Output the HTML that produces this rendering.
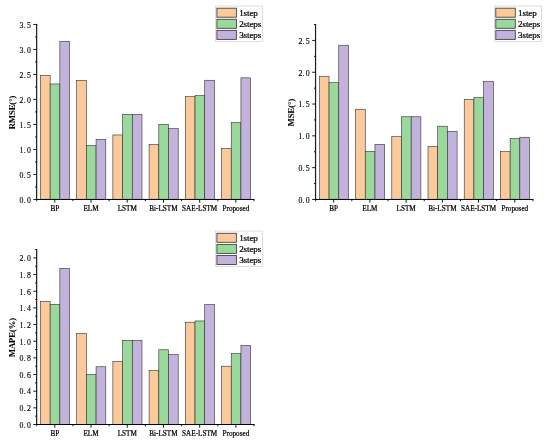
<!DOCTYPE html>
<html lang="en"><head><meta charset="utf-8"><title>Prediction error comparison</title>
<style>html,body{margin:0;padding:0;background:#fff}body{width:550px;height:442px;overflow:hidden}svg{display:block}text{font-family:"Liberation Serif","DejaVu Serif",serif;fill:#000;stroke:#000;stroke-width:0.22px}.tk{font-size:7.8px;stroke-width:0.14px}.lb{font-size:7.2px;text-anchor:middle}.tt{font-size:8.5px;text-anchor:middle;font-weight:bold;stroke-width:0.05px}.lg{font-size:9.1px;letter-spacing:-0.12px}</style></head><body>
<svg width="550" height="442" viewBox="0 0 550 442">
<rect width="550" height="442" fill="#fff"/>
<g>
<rect x="40.46" y="75.45" width="9.70" height="124.00" fill="#fbc99a" stroke="#303030" stroke-width="0.6"/>
<rect x="50.16" y="83.95" width="9.70" height="115.50" fill="#9bd89b" stroke="#303030" stroke-width="0.6"/>
<rect x="59.86" y="41.45" width="9.70" height="158.00" fill="#c3b3dc" stroke="#303030" stroke-width="0.6"/>
<rect x="76.68" y="80.45" width="9.70" height="119.00" fill="#fbc99a" stroke="#303030" stroke-width="0.6"/>
<rect x="86.38" y="145.65" width="9.70" height="53.80" fill="#9bd89b" stroke="#303030" stroke-width="0.6"/>
<rect x="96.08" y="139.45" width="9.70" height="60.00" fill="#c3b3dc" stroke="#303030" stroke-width="0.6"/>
<rect x="112.89" y="134.95" width="9.70" height="64.50" fill="#fbc99a" stroke="#303030" stroke-width="0.6"/>
<rect x="122.59" y="114.45" width="9.70" height="85.00" fill="#9bd89b" stroke="#303030" stroke-width="0.6"/>
<rect x="132.29" y="114.45" width="9.70" height="85.00" fill="#c3b3dc" stroke="#303030" stroke-width="0.6"/>
<rect x="149.11" y="144.45" width="9.70" height="55.00" fill="#fbc99a" stroke="#303030" stroke-width="0.6"/>
<rect x="158.81" y="124.45" width="9.70" height="75.00" fill="#9bd89b" stroke="#303030" stroke-width="0.6"/>
<rect x="168.51" y="128.65" width="9.70" height="70.80" fill="#c3b3dc" stroke="#303030" stroke-width="0.6"/>
<rect x="185.32" y="96.65" width="9.70" height="102.80" fill="#fbc99a" stroke="#303030" stroke-width="0.6"/>
<rect x="195.02" y="95.65" width="9.70" height="103.80" fill="#9bd89b" stroke="#303030" stroke-width="0.6"/>
<rect x="204.72" y="80.25" width="9.70" height="119.20" fill="#c3b3dc" stroke="#303030" stroke-width="0.6"/>
<rect x="221.54" y="148.45" width="9.70" height="51.00" fill="#fbc99a" stroke="#303030" stroke-width="0.6"/>
<rect x="231.24" y="122.65" width="9.70" height="76.80" fill="#9bd89b" stroke="#303030" stroke-width="0.6"/>
<rect x="240.94" y="77.85" width="9.70" height="121.60" fill="#c3b3dc" stroke="#303030" stroke-width="0.6"/>
<path d="M36.65 23.95V199.95" fill="none" stroke="#1c1c1c" stroke-width="1.2"/>
<path d="M36.70 199.45H254.50" fill="none" stroke="#000" stroke-width="1"/>
<text class="tk" x="19.50 23.70 26.90" y="202.75">0.0</text>
<text class="tk" x="19.50 23.70 26.90" y="177.75">0.5</text>
<text class="tk" x="19.50 23.70 26.90" y="152.75">1.0</text>
<text class="tk" x="19.50 23.70 26.90" y="127.75">1.5</text>
<text class="tk" x="19.50 23.70 26.90" y="102.75">2.0</text>
<text class="tk" x="19.50 23.70 26.90" y="77.75">2.5</text>
<text class="tk" x="19.50 23.70 26.90" y="52.75">3.0</text>
<text class="tk" x="19.50 23.70 26.90" y="27.75">3.5</text>
<text class="lb" x="54.81" y="211.15">BP</text>
<text class="lb" x="91.03" y="211.15">ELM</text>
<text class="lb" x="127.24" y="211.15">LSTM</text>
<text class="lb" x="163.46" y="211.15">Bi-LSTM</text>
<text class="lb" x="199.68" y="211.15">SAE-LSTM</text>
<text class="lb" x="235.89" y="211.15">Proposed</text>
<path d="M36.70 199.45v1.8M36.70 199.45h-3.4M36.70 186.95h-1.6M36.70 174.45h-3.4M36.70 161.95h-1.6M36.70 149.45h-3.4M36.70 136.95h-1.6M36.70 124.45h-3.4M36.70 111.95h-1.6M36.70 99.45h-3.4M36.70 86.95h-1.6M36.70 74.45h-3.4M36.70 61.95h-1.6M36.70 49.45h-3.4M36.70 36.95h-1.6M36.70 24.45h-3.4M54.81 199.45v3.2M72.92 199.45v1.8M91.03 199.45v3.2M109.13 199.45v1.8M127.24 199.45v3.2M145.35 199.45v1.8M163.46 199.45v3.2M181.57 199.45v1.8M199.68 199.45v3.2M217.78 199.45v1.8M235.89 199.45v3.2M254.00 199.45v1.8" fill="none" stroke="#000" stroke-width="0.9"/>
<text class="tt" transform="translate(15.40 112.45) rotate(-90)">RMSE(°)</text>
<rect x="215.60" y="6.00" width="47.0" height="35.3" fill="#fff" stroke="#c8c8c8" stroke-width="0.6"/>
<rect x="216.90" y="8.20" width="19.5" height="9.0" fill="#fbc99a" stroke="#444" stroke-width="0.9"/>
<text class="lg" x="239.20" y="15.60">1step</text>
<rect x="216.90" y="19.30" width="19.5" height="9.0" fill="#9bd89b" stroke="#444" stroke-width="0.9"/>
<text class="lg" x="239.20" y="26.70">2steps</text>
<rect x="216.90" y="30.40" width="19.5" height="9.0" fill="#c3b3dc" stroke="#444" stroke-width="0.9"/>
<text class="lg" x="239.20" y="37.80">3steps</text>
</g>
<g>
<rect x="319.36" y="76.64" width="9.70" height="122.81" fill="#fbc99a" stroke="#303030" stroke-width="0.6"/>
<rect x="329.06" y="82.68" width="9.70" height="116.77" fill="#9bd89b" stroke="#303030" stroke-width="0.6"/>
<rect x="338.76" y="45.22" width="9.70" height="154.23" fill="#c3b3dc" stroke="#303030" stroke-width="0.6"/>
<rect x="355.57" y="109.27" width="9.70" height="90.18" fill="#fbc99a" stroke="#303030" stroke-width="0.6"/>
<rect x="365.27" y="151.43" width="9.70" height="48.02" fill="#9bd89b" stroke="#303030" stroke-width="0.6"/>
<rect x="374.97" y="144.44" width="9.70" height="55.01" fill="#c3b3dc" stroke="#303030" stroke-width="0.6"/>
<rect x="391.79" y="136.68" width="9.70" height="62.77" fill="#fbc99a" stroke="#303030" stroke-width="0.6"/>
<rect x="401.49" y="116.77" width="9.70" height="82.68" fill="#9bd89b" stroke="#303030" stroke-width="0.6"/>
<rect x="411.19" y="116.77" width="9.70" height="82.68" fill="#c3b3dc" stroke="#303030" stroke-width="0.6"/>
<rect x="428.01" y="146.47" width="9.70" height="52.98" fill="#fbc99a" stroke="#303030" stroke-width="0.6"/>
<rect x="437.71" y="126.25" width="9.70" height="73.20" fill="#9bd89b" stroke="#303030" stroke-width="0.6"/>
<rect x="447.41" y="131.27" width="9.70" height="68.18" fill="#c3b3dc" stroke="#303030" stroke-width="0.6"/>
<rect x="464.22" y="99.47" width="9.70" height="99.98" fill="#fbc99a" stroke="#303030" stroke-width="0.6"/>
<rect x="473.92" y="97.69" width="9.70" height="101.76" fill="#9bd89b" stroke="#303030" stroke-width="0.6"/>
<rect x="483.62" y="81.66" width="9.70" height="117.79" fill="#c3b3dc" stroke="#303030" stroke-width="0.6"/>
<rect x="500.44" y="151.62" width="9.70" height="47.83" fill="#fbc99a" stroke="#303030" stroke-width="0.6"/>
<rect x="510.14" y="138.65" width="9.70" height="60.80" fill="#9bd89b" stroke="#303030" stroke-width="0.6"/>
<rect x="519.84" y="137.25" width="9.70" height="62.20" fill="#c3b3dc" stroke="#303030" stroke-width="0.6"/>
<path d="M315.55 24.05V199.95" fill="none" stroke="#1c1c1c" stroke-width="1.2"/>
<path d="M315.60 199.45H533.40" fill="none" stroke="#000" stroke-width="1"/>
<text class="tk" x="298.40 302.60 305.80" y="202.75">0.0</text>
<text class="tk" x="298.40 302.60 305.80" y="170.95">0.5</text>
<text class="tk" x="298.40 302.60 305.80" y="139.15">1.0</text>
<text class="tk" x="298.40 302.60 305.80" y="107.35">1.5</text>
<text class="tk" x="298.40 302.60 305.80" y="75.55">2.0</text>
<text class="tk" x="298.40 302.60 305.80" y="43.75">2.5</text>
<text class="lb" x="333.71" y="211.15">BP</text>
<text class="lb" x="369.92" y="211.15">ELM</text>
<text class="lb" x="406.14" y="211.15">LSTM</text>
<text class="lb" x="442.36" y="211.15">Bi-LSTM</text>
<text class="lb" x="478.57" y="211.15">SAE-LSTM</text>
<text class="lb" x="514.79" y="211.15">Proposed</text>
<path d="M315.60 199.45v1.8M315.60 199.45h-3.4M315.60 183.55h-1.6M315.60 167.65h-3.4M315.60 151.75h-1.6M315.60 135.85h-3.4M315.60 119.95h-1.6M315.60 104.05h-3.4M315.60 88.15h-1.6M315.60 72.25h-3.4M315.60 56.35h-1.6M315.60 40.45h-3.4M315.60 24.55h-1.6M333.71 199.45v3.2M351.82 199.45v1.8M369.92 199.45v3.2M388.03 199.45v1.8M406.14 199.45v3.2M424.25 199.45v1.8M442.36 199.45v3.2M460.47 199.45v1.8M478.57 199.45v3.2M496.68 199.45v1.8M514.79 199.45v3.2M532.90 199.45v1.8" fill="none" stroke="#000" stroke-width="0.9"/>
<text class="tt" transform="translate(294.30 112.50) rotate(-90)">MSE(°)</text>
<rect x="494.50" y="6.00" width="47.0" height="35.3" fill="#fff" stroke="#c8c8c8" stroke-width="0.6"/>
<rect x="495.80" y="8.20" width="19.5" height="9.0" fill="#fbc99a" stroke="#444" stroke-width="0.9"/>
<text class="lg" x="518.10" y="15.60">1step</text>
<rect x="495.80" y="19.30" width="19.5" height="9.0" fill="#9bd89b" stroke="#444" stroke-width="0.9"/>
<text class="lg" x="518.10" y="26.70">2steps</text>
<rect x="495.80" y="30.40" width="19.5" height="9.0" fill="#c3b3dc" stroke="#444" stroke-width="0.9"/>
<text class="lg" x="518.10" y="37.80">3steps</text>
</g>
<g>
<rect x="40.46" y="301.47" width="9.70" height="123.03" fill="#fbc99a" stroke="#303030" stroke-width="0.6"/>
<rect x="50.16" y="304.30" width="9.70" height="120.20" fill="#9bd89b" stroke="#303030" stroke-width="0.6"/>
<rect x="59.86" y="268.31" width="9.70" height="156.19" fill="#c3b3dc" stroke="#303030" stroke-width="0.6"/>
<rect x="76.68" y="333.54" width="9.70" height="90.96" fill="#fbc99a" stroke="#303030" stroke-width="0.6"/>
<rect x="86.38" y="374.60" width="9.70" height="49.90" fill="#9bd89b" stroke="#303030" stroke-width="0.6"/>
<rect x="96.08" y="366.77" width="9.70" height="57.73" fill="#c3b3dc" stroke="#303030" stroke-width="0.6"/>
<rect x="112.89" y="361.44" width="9.70" height="63.06" fill="#fbc99a" stroke="#303030" stroke-width="0.6"/>
<rect x="122.59" y="340.45" width="9.70" height="84.05" fill="#9bd89b" stroke="#303030" stroke-width="0.6"/>
<rect x="132.29" y="340.45" width="9.70" height="84.05" fill="#c3b3dc" stroke="#303030" stroke-width="0.6"/>
<rect x="149.11" y="370.44" width="9.70" height="54.06" fill="#fbc99a" stroke="#303030" stroke-width="0.6"/>
<rect x="158.81" y="349.78" width="9.70" height="74.72" fill="#9bd89b" stroke="#303030" stroke-width="0.6"/>
<rect x="168.51" y="354.61" width="9.70" height="69.89" fill="#c3b3dc" stroke="#303030" stroke-width="0.6"/>
<rect x="185.32" y="322.21" width="9.70" height="102.29" fill="#fbc99a" stroke="#303030" stroke-width="0.6"/>
<rect x="195.02" y="320.96" width="9.70" height="103.54" fill="#9bd89b" stroke="#303030" stroke-width="0.6"/>
<rect x="204.72" y="304.63" width="9.70" height="119.87" fill="#c3b3dc" stroke="#303030" stroke-width="0.6"/>
<rect x="221.54" y="366.19" width="9.70" height="58.31" fill="#fbc99a" stroke="#303030" stroke-width="0.6"/>
<rect x="231.24" y="353.61" width="9.70" height="70.89" fill="#9bd89b" stroke="#303030" stroke-width="0.6"/>
<rect x="240.94" y="345.37" width="9.70" height="79.13" fill="#c3b3dc" stroke="#303030" stroke-width="0.6"/>
<path d="M36.65 249.07V425.00" fill="none" stroke="#1c1c1c" stroke-width="1.2"/>
<path d="M36.70 424.50H254.50" fill="none" stroke="#000" stroke-width="1"/>
<text class="tk" x="19.50 23.70 26.90" y="427.80">0.0</text>
<text class="tk" x="19.50 23.70 26.90" y="411.14">0.2</text>
<text class="tk" x="19.50 23.70 26.90" y="394.48">0.4</text>
<text class="tk" x="19.50 23.70 26.90" y="377.82">0.6</text>
<text class="tk" x="19.50 23.70 26.90" y="361.16">0.8</text>
<text class="tk" x="19.50 23.70 26.90" y="344.50">1.0</text>
<text class="tk" x="19.50 23.70 26.90" y="327.84">1.2</text>
<text class="tk" x="19.50 23.70 26.90" y="311.18">1.4</text>
<text class="tk" x="19.50 23.70 26.90" y="294.52">1.6</text>
<text class="tk" x="19.50 23.70 26.90" y="277.86">1.8</text>
<text class="tk" x="19.50 23.70 26.90" y="261.20">2.0</text>
<text class="lb" x="54.81" y="436.20">BP</text>
<text class="lb" x="91.03" y="436.20">ELM</text>
<text class="lb" x="127.24" y="436.20">LSTM</text>
<text class="lb" x="163.46" y="436.20">Bi-LSTM</text>
<text class="lb" x="199.68" y="436.20">SAE-LSTM</text>
<text class="lb" x="235.89" y="436.20">Proposed</text>
<path d="M36.70 424.50v1.8M36.70 424.50h-3.4M36.70 416.17h-1.6M36.70 407.84h-3.4M36.70 399.51h-1.6M36.70 391.18h-3.4M36.70 382.85h-1.6M36.70 374.52h-3.4M36.70 366.19h-1.6M36.70 357.86h-3.4M36.70 349.53h-1.6M36.70 341.20h-3.4M36.70 332.87h-1.6M36.70 324.54h-3.4M36.70 316.21h-1.6M36.70 307.88h-3.4M36.70 299.55h-1.6M36.70 291.22h-3.4M36.70 282.89h-1.6M36.70 274.56h-3.4M36.70 266.23h-1.6M36.70 257.90h-3.4M36.70 249.57h-1.6M54.81 424.50v3.2M72.92 424.50v1.8M91.03 424.50v3.2M109.13 424.50v1.8M127.24 424.50v3.2M145.35 424.50v1.8M163.46 424.50v3.2M181.57 424.50v1.8M199.68 424.50v3.2M217.78 424.50v1.8M235.89 424.50v3.2M254.00 424.50v1.8" fill="none" stroke="#000" stroke-width="0.9"/>
<text class="tt" transform="translate(15.40 337.53) rotate(-90)">MAPE(%)</text>
<rect x="215.60" y="231.10" width="47.0" height="35.3" fill="#fff" stroke="#c8c8c8" stroke-width="0.6"/>
<rect x="216.90" y="233.30" width="19.5" height="9.0" fill="#fbc99a" stroke="#444" stroke-width="0.9"/>
<text class="lg" x="239.20" y="240.70">1step</text>
<rect x="216.90" y="244.40" width="19.5" height="9.0" fill="#9bd89b" stroke="#444" stroke-width="0.9"/>
<text class="lg" x="239.20" y="251.80">2steps</text>
<rect x="216.90" y="255.50" width="19.5" height="9.0" fill="#c3b3dc" stroke="#444" stroke-width="0.9"/>
<text class="lg" x="239.20" y="262.90">3steps</text>
</g>
</svg></body></html>
